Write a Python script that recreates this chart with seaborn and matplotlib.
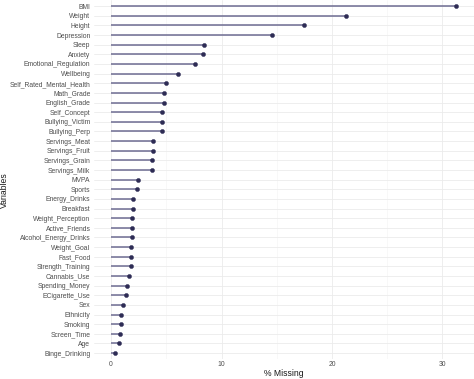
import matplotlib
matplotlib.use("Agg")
import matplotlib.pyplot as plt
import seaborn as sns
import pandas as pd

variables = ["BMI", "Weight", "Height", "Depression", "Sleep", "Anxiety",
             "Emotional_Regulation", "Wellbeing", "Self_Rated_Mental_Health",
             "Math_Grade", "English_Grade", "Self_Concept", "Bullying_Victim",
             "Bullying_Perp", "Servings_Meat", "Servings_Fruit", "Servings_Grain",
             "Servings_Milk", "MVPA", "Sports", "Energy_Drinks", "Breakfast",
             "Weight_Perception", "Active_Friends", "Alcohol_Energy_Drinks",
             "Weight_Goal", "Fast_Food", "Strength_Training", "Cannabis_Use",
             "Spending_Money", "ECigarette_Use", "Sex", "Ethnicity", "Smoking",
             "Screen_Time", "Age", "Binge_Drinking"]
pct_missing = [31.25, 21.27, 17.5, 14.54, 8.39, 8.36,
               7.57, 6.03, 4.95,
               4.83, 4.80, 4.65, 4.61,
               4.58, 3.83, 3.80, 3.69,
               3.66, 2.41, 2.35, 2.02, 1.99,
               1.93, 1.92, 1.90,
               1.84, 1.83, 1.80, 1.62,
               1.44, 1.38, 1.11, 0.90, 0.87,
               0.81, 0.72, 0.33]
x_ticks = [0, 10, 20, 30]

df = pd.DataFrame({"Variable": variables, "Missing": pct_missing})
df = df.iloc[::-1].reset_index(drop=True)  # bottom-up order

sns.set_theme(style="white")
plt.rcParams["font.family"] = ["Liberation Sans", "DejaVu Sans"]

fig = plt.figure(figsize=(4.74, 3.79), dpi=100)
ax = fig.add_axes([0.198, 0.053, 0.801, 0.946])

line_col = "#6e6c92"
dot_col = "#2e2c55"

sns.scatterplot(data=df, x="Missing", y="Variable", ax=ax, color=dot_col,
                s=9, edgecolor=dot_col, linewidth=0.3, zorder=3)
ax.hlines(y=df["Variable"], xmin=0, xmax=df["Missing"], color=line_col,
          linewidth=1.1, zorder=2)

n = len(variables)
ax.set_ylim(-0.6, n - 1 + 0.6)
xmax = max(pct_missing)
ax.set_xlim(-0.05 * xmax, xmax * 1.05)

ax.set_xticks(x_ticks)
ax.set_xticks([5, 15, 25], minor=True)
ax.grid(True, which="major", axis="both", color="#ebebeb", linewidth=0.6, zorder=0)
ax.grid(True, which="minor", axis="x", color="#f3f3f3", linewidth=0.4, zorder=0)
ax.set_axisbelow(True)
for s in ax.spines.values():
    s.set_visible(False)
ax.tick_params(axis="both", which="both", length=0)
ax.tick_params(axis="x", pad=1.5)
ax.tick_params(axis="y", pad=2.5)
ax.tick_params(axis="both", labelsize=4.9, labelcolor="#4d4d4d")

ax.set_xlabel("% Missing", fontsize=6.2, color="#1a1a1a")
ax.set_ylabel("Variables", fontsize=6.2, color="#1a1a1a")
ax.xaxis.set_label_coords((284 - 94) / 379.5, -(373 - 358.8) / 358.5)
ax.yaxis.set_label_coords(-(94 - 5) / 379.5, (358.8 - 190) / 358.5)
ax.xaxis.label.set_va("center")
ax.yaxis.label.set_va("center")

fig.savefig("out.png", dpi=100, facecolor="white")
